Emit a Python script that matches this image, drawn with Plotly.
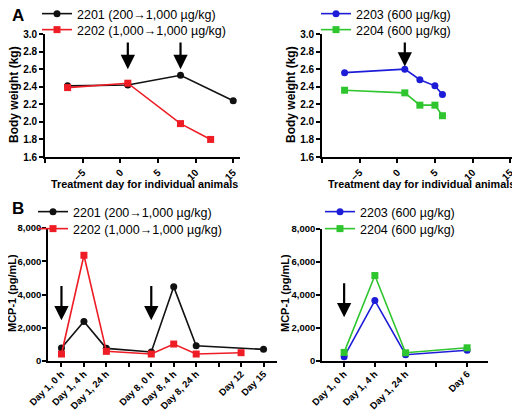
import plotly.graph_objects as go

# ---- data -------------------------------------------------------------
# Panel A: body weight (kg) by treatment day
days_2201 = [-7, 1, 8, 15]
wt_2201 = [2.41, 2.42, 2.53, 2.24]
days_2202 = [-7, 1, 8, 12]
wt_2202 = [2.39, 2.44, 1.98, 1.80]
days_2203 = [-7, 1, 3, 5, 6]
wt_2203 = [2.56, 2.60, 2.48, 2.41, 2.31]
days_2204 = [-7, 1, 3, 5, 6]
wt_2204 = [2.36, 2.33, 2.19, 2.19, 2.07]
arrow_days_left = [1, 8]
arrow_days_right = [1]

# Panel B: MCP-1 (pg/mL) by sampling time
times_left = ["Day 1, 0 h", "Day 1, 4 h", "Day 1, 24 h", "",
              "Day 8, 0 h", "Day 8, 4 h", "Day 8, 24 h", "",
              "Day 12", "Day 15"]
t_2201 = ["Day 1, 0 h", "Day 1, 4 h", "Day 1, 24 h", "Day 8, 0 h",
          "Day 8, 4 h", "Day 8, 24 h", "Day 15"]
mcp_2201 = [780, 2380, 760, 540, 4460, 920, 700]
t_2202 = ["Day 1, 0 h", "Day 1, 4 h", "Day 1, 24 h", "Day 8, 0 h",
          "Day 8, 4 h", "Day 8, 24 h", "Day 12"]
mcp_2202 = [420, 6360, 580, 420, 1020, 420, 500]
times_right = ["Day 1, 0 h", "Day 1, 4 h", "Day 1, 24 h", "", "Day 6"]
t_2203 = ["Day 1, 0 h", "Day 1, 4 h", "Day 1, 24 h", "Day 6"]
mcp_2203 = [260, 3660, 380, 650]
t_2204 = ["Day 1, 0 h", "Day 1, 4 h", "Day 1, 24 h", "Day 6"]
mcp_2204 = [520, 5180, 500, 800]
arrow_times_left = ["Day 1, 0 h", "Day 8, 0 h"]
arrow_times_right = ["Day 1, 0 h"]

BLACK = "#111111"
RED = "#ee1c25"
BLUE = "#1d1dd8"
GREEN = "#2ec52e"
FONT = "Liberation Sans, Arial, sans-serif"

# page has an 8px body margin, so the figure is 8px smaller and
# positions below are page pixels shifted by that offset
OFF = 8
W, H = 520 - OFF, 411 - OFF


def px(p):
    return (p - OFF) / W


def py(p):
    return 1 - (p - OFF) / H


def xd(a, b):
    return [px(a), min(px(b), 1.0)]


def yd(top, bottom):
    return [py(bottom), py(top)]


fig = go.Figure()


def pos(labels, ts):
    return [labels.index(t) for t in ts]


def add_series(x, y, name, color, symbol, xa, ya, legend):
    fig.add_trace(go.Scatter(
        x=x, y=y, name=name, mode="lines+markers",
        line=dict(color=color, width=1.6),
        marker=dict(color=color, symbol=symbol, size=7),
        xaxis=xa, yaxis=ya, legend=legend))


add_series(days_2201, wt_2201, "2201 (200→1,000 µg/kg)", BLACK, "circle", "x", "y", "legend2")
add_series(days_2202, wt_2202, "2202 (1,000→1,000 µg/kg)", RED, "square", "x", "y", "legend3")
add_series(days_2203, wt_2203, "2203 (600 µg/kg)", BLUE, "circle", "x2", "y2", "legend4")
add_series(days_2204, wt_2204, "2204 (600 µg/kg)", GREEN, "square", "x2", "y2", "legend5")
add_series(pos(times_left, t_2201), mcp_2201, "2201 (200→1,000 µg/kg)", BLACK, "circle", "x3", "y3", "legend6")
add_series(pos(times_left, t_2202), mcp_2202, "2202 (1,000→1,000 µg/kg)", RED, "square", "x3", "y3", "legend7")
add_series(pos(times_right, t_2203), mcp_2203, "2203 (600 µg/kg)", BLUE, "circle", "x4", "y4", "legend8")
add_series(pos(times_right, t_2204), mcp_2204, "2204 (600 µg/kg)", GREEN, "square", "x4", "y4", "legend9")


# dosing arrows
def arrow(x, y0, y1, xr, yr):
    fig.add_annotation(x=x, y=y1, ax=x, ay=y0, xref=xr, yref=yr, axref=xr, ayref=yr,
                       text="", showarrow=True, arrowhead=2, arrowsize=1.3,
                       arrowwidth=2.2, arrowcolor="black")


for d in arrow_days_left:
    arrow(d, 2.92, 2.60, "x", "y")
for d in arrow_days_right:
    arrow(d, 2.92, 2.63, "x2", "y2")
for t in arrow_times_left:
    arrow(times_left.index(t), 4600, 2450, "x3", "y3")
for t in arrow_times_right:
    arrow(times_right.index(t), 4800, 2650, "x4", "y4")

axis_common = dict(showline=True, linecolor="black", linewidth=1.6, ticks="outside",
                   ticklen=4, tickwidth=1.6, tickcolor="black", showgrid=False,
                   zeroline=False, automargin=False)
num_font = dict(family=FONT, size=10, color="black", weight="bold")
mcp_font = dict(family=FONT, size=9.5, color="black", weight="bold")
cat_font = dict(family=FONT, size=9.5, color="black", weight="bold")

wt_y = dict(range=[1.6, 3.0], dtick=0.2, tickformat=".1f", tickfont=num_font, **axis_common)
day_x = dict(tickvals=[-10, -5, 0, 5, 10, 15], ticktext=["", "−5", "0", "5", "10", "15"],
             tickangle=-45, tickfont=num_font, **axis_common)
mcp_y = dict(range=[0, 8000], dtick=2000, tickformat=",d", tickfont=mcp_font,
             ticklabelstandoff=-1, **axis_common)

fig.update_layout(
    template="none",
    width=W, height=H, margin=dict(l=0, r=0, t=0, b=0, autoexpand=False),
    paper_bgcolor="white", plot_bgcolor="white",
    font=dict(family=FONT, color="black"),
    showlegend=True,
    xaxis=dict(domain=xd(45, 240), range=[-10, 15.9], anchor="y", **day_x),
    yaxis=dict(domain=yd(34, 157), anchor="x", **wt_y),
    xaxis2=dict(domain=xd(322, 520), range=[-10, 16.3], anchor="y2", **day_x),
    yaxis2=dict(domain=yd(34, 157), anchor="x2", **wt_y),
    xaxis3=dict(domain=xd(48, 277), range=[-0.6, 9.6], anchor="y3",
                tickvals=list(range(len(times_left))), ticktext=times_left,
                tickangle=-45, tickfont=cat_font, ticklabelstandoff=-2, **axis_common),
    yaxis3=dict(domain=yd(228, 361), anchor="x3", **mcp_y),
    xaxis4=dict(domain=xd(322, 488), range=[-0.72, 4.68], anchor="y4",
                tickvals=list(range(len(times_right))), ticktext=times_right,
                tickangle=-45, tickfont=cat_font, ticklabelstandoff=-2, **axis_common),
    yaxis4=dict(domain=yd(229, 361), anchor="x4", **mcp_y),
)

# one legend per entry so each row sits where the reference has it
leg = dict(font=dict(family=FONT, size=12.5, color="black"), bgcolor="rgba(0,0,0,0)",
           itemwidth=30, xanchor="left", yanchor="middle")
legend_rows = {"legend2": (37, 14), "legend3": (37, 30), "legend4": (316, 14),
               "legend5": (316, 30), "legend6": (33, 212), "legend7": (33, 229),
               "legend8": (320, 212), "legend9": (320, 229)}
fig.update_layout({k: dict(x=px(x), y=py(y), **leg) for k, (x, y) in legend_rows.items()})

# panel letters and axis titles
bold = dict(family=FONT, color="black", weight="bold")
for txt, y in [("A", 16), ("B", 209)]:
    fig.add_annotation(text=txt, x=px(10), y=py(y), xref="paper", yref="paper",
                       xanchor="left", yanchor="middle", showarrow=False,
                       font=dict(size=17, **bold))
for xc, txt, yc, sz in [(14, "Body weight (kg)", 95, 12), (291, "Body weight (kg)", 95, 12),
                        (12, "MCP-1 (pg/mL)", 293, 11), (285, "MCP-1 (pg/mL)", 293, 11)]:
    fig.add_annotation(text=txt, x=px(xc), y=py(yc), xref="paper", yref="paper",
                       xanchor="center", yanchor="middle",
                       textangle=-90, showarrow=False, font=dict(size=sz, **bold))
for xc in [144, 421]:
    fig.add_annotation(text="Treatment day for individual animals", x=px(xc), y=py(184),
                       xref="paper", yref="paper", xanchor="center", yanchor="middle",
                       showarrow=False, font=dict(size=10.8, **bold))

fig.write_html("out.html")
